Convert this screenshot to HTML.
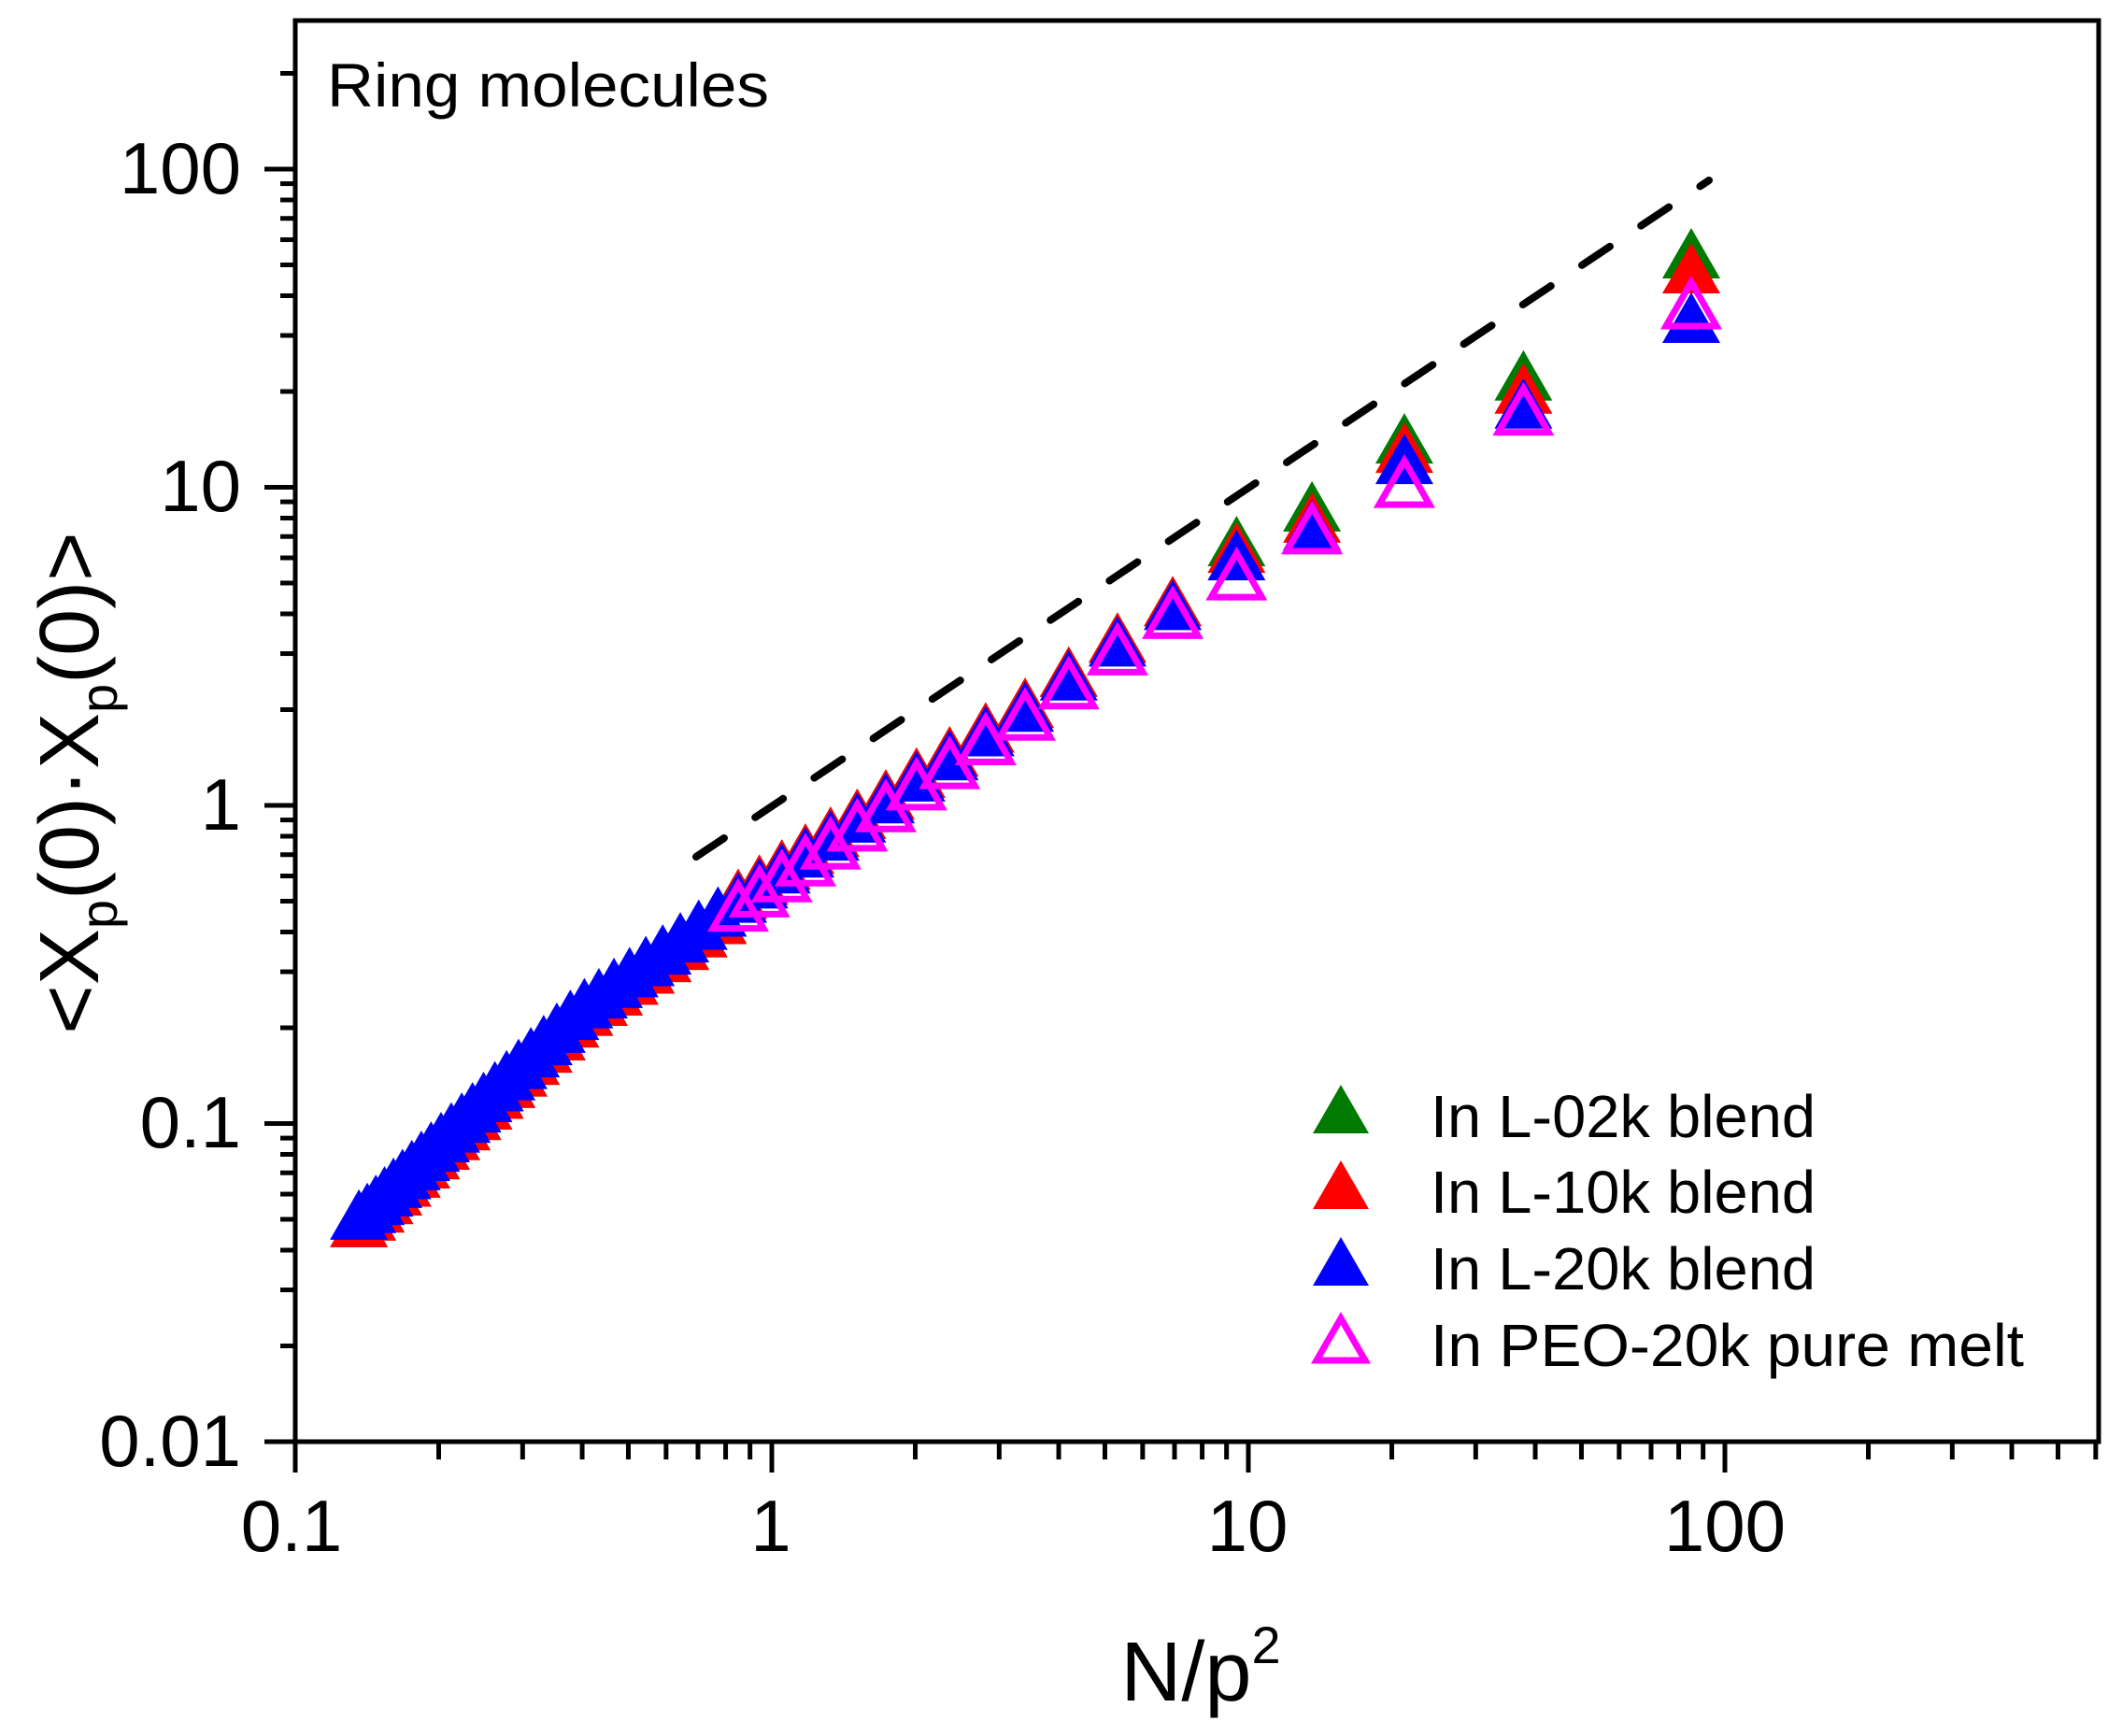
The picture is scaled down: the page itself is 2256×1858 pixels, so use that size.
<!DOCTYPE html>
<html><head><meta charset="utf-8"><style>html,body{margin:0;padding:0;background:#fff}svg{display:block}</style></head>
<body>
<svg id="s" width="2256" height="1858" viewBox="0 0 2256 1858" xmlns="http://www.w3.org/2000/svg" font-family="Liberation Sans, Arial, sans-serif">
<rect width="2256" height="1858" fill="#fff"/>
<g id="ticks" stroke="#000" stroke-width="5"></g>
<line x1="745" y1="917" x2="1829" y2="193" stroke="#000" stroke-width="8" stroke-dasharray="36 40" stroke-linecap="round"/>
<g id="data"></g>
<rect x="316" y="22" width="1930" height="1521" fill="none" stroke="#000" stroke-width="5"/>
<g font-size="78" fill="#000" text-anchor="end">
<text x="258" y="207">100</text>
<text x="258" y="547">10</text>
<text x="258" y="888">1</text>
<text x="258" y="1228">0.1</text>
<text x="258" y="1569">0.01</text>
</g>
<g font-size="78" fill="#000" text-anchor="middle">
<text x="312" y="1660">0.1</text>
<text x="825" y="1660">1</text>
<text x="1335" y="1660">10</text>
<text x="1846" y="1660">100</text>
</g>
<text x="350" y="114" font-size="66" textLength="473" lengthAdjust="spacingAndGlyphs">Ring molecules</text>
<text x="1285" y="1820" font-size="90" text-anchor="middle">N/p<tspan font-size="56" dy="-40">2</tspan></text>
<text transform="translate(105,838) rotate(-90)" font-size="90" text-anchor="middle">&lt;X<tspan font-size="56" dy="20">p</tspan><tspan dy="-20">(0)·X</tspan><tspan font-size="56" dy="20">p</tspan><tspan dy="-20">(0)&gt;</tspan></text>
<g font-size="64" fill="#000">
<text x="1531" y="1217" textLength="412" lengthAdjust="spacingAndGlyphs">In L-02k blend</text>
<text x="1531" y="1298" textLength="412" lengthAdjust="spacingAndGlyphs">In L-10k blend</text>
<text x="1531" y="1380" textLength="412" lengthAdjust="spacingAndGlyphs">In L-20k blend</text>
<text x="1531" y="1462" textLength="635" lengthAdjust="spacingAndGlyphs">In PEO-20k pure melt</text>
</g>
<polygon points="1405,1213 1465,1213 1435,1161" fill="#007a00"/>
<polygon points="1405,1294 1465,1294 1435,1242" fill="#ff0000"/>
<polygon points="1405,1376 1465,1376 1435,1324" fill="#0000ff"/>
<polygon points="1409,1456 1461,1456 1435,1411" fill="none" stroke="#ff00ff" stroke-width="7"/>
</svg>
<script>
(function(){
var NS="http://www.w3.org/2000/svg";
var tk=document.getElementById("ticks"), dg=document.getElementById("data");
function L(x1,y1,x2,y2){var l=document.createElementNS(NS,"line");l.setAttribute("x1",x1);l.setAttribute("y1",y1);l.setAttribute("x2",x2);l.setAttribute("y2",y2);tk.appendChild(l);}
function X(v){return 316+510*(Math.log10(v)+1);}
function Y(v){return 862-340.5*Math.log10(v);}
for(var d=-1;d<=2;d++){for(var m=1;m<=9;m++){var v=m*Math.pow(10,d);var px=X(v);if(px>2244)continue;L(px,1543,px,m==1?1576:1562);}}
for(var d=-2;d<=2;d++){for(var m=1;m<=9;m++){var v=m*Math.pow(10,d);var py=Y(v);if(py<24)continue;L(316,py,m==1?283:300,py);}}
var A=[[384,1300],[394,1292],[453,1235],[619,1078],[791,960],[947,855],[979,832],[1015,809],[1054,783],[1096,757],[1142,724],[1195,687],[1253,649],[1321,595],[1404,562],[1501,492],[1630,432],[1809,340]];
function interp(px){if(px<=A[0][0])return A[0][1];for(var i=1;i<A.length;i++){if(px<=A[i][0]){var t=(px-A[i-1][0])/(A[i][0]-A[i-1][0]);return A[i-1][1]+t*(A[i][1]-A[i-1][1]);}}return A[A.length-1][1];}
var offs={green:{2:-69,3:-30,4:-22,5:-20,6:-15},red:{2:-53,3:-16,4:-12,5:-8,6:-8},pink:{2:-14,3:8,4:26,5:5,6:22}};
function off(s,p){if(s=="blue")return 0;var o=offs[s][p];if(o!==undefined)return o;if(s=="pink")return 10;if(p<=20)return -4;return 8;}
function tri(cx,cy,col,open){var p=document.createElementNS(NS,"polygon");
 if(open){p.setAttribute("points",(cx-27)+","+(cy+23)+" "+(cx+27)+","+(cy+23)+" "+cx+","+(cy-24));p.setAttribute("fill","none");p.setAttribute("stroke",col);p.setAttribute("stroke-width","7");}
 else{p.setAttribute("points",(cx-31)+","+(cy+27)+" "+(cx+31)+","+(cy+27)+" "+cx+","+(cy-27));p.setAttribute("fill",col);}
 dg.appendChild(p);}
var series=[["green","#007a00",50],["red","#ff0000",50],["blue","#0000ff",50],["pink","#ff00ff",20]];
series.forEach(function(s){for(var p=s[2];p>=2;p--){var x=340/(p*p);var px=X(x);var py=interp(px)+off(s[0],p);tri(px,py,s[1],s[0]=="pink");}});
})();
</script>
</body></html>
